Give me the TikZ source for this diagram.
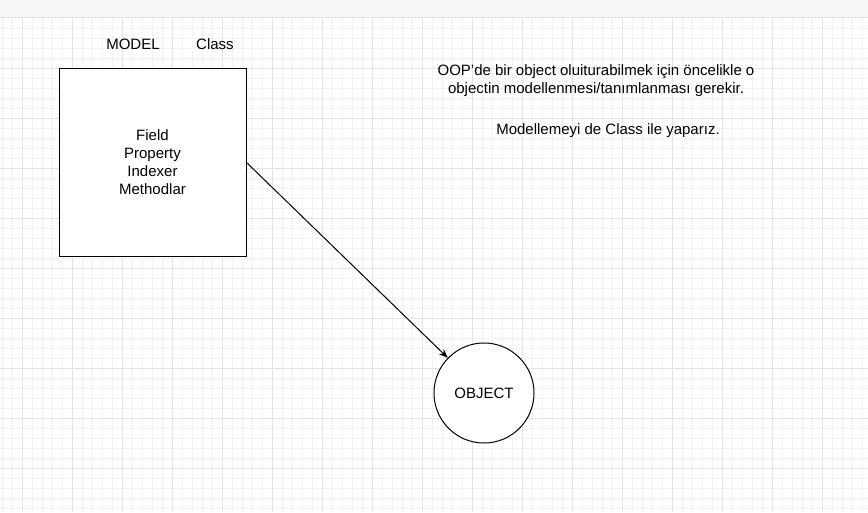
\documentclass[tikz,border=0pt]{standalone}
\usepackage{fontspec}
\usetikzlibrary{arrows.meta}
\setmainfont{Liberation Sans}
\begin{document}
\begin{tikzpicture}[x=1pt,y=-1pt,
  lbl/.style={font=\fontsize{15}{18}\selectfont, inner sep=0pt, align=center},
  arr/.style={draw, line width=1pt, -{Stealth[length=9pt,width=7pt]}}]
\useasboundingbox (0,0) rectangle (868,512);
\fill[white] (0,0) rectangle (868,512);
\fill[black!3] (0,0) rectangle (868,17);
\draw[black!12] (0,17.5) -- (868,17.5);
\foreach \x in {2,12,...,862} \draw[black!5, line width=0.6pt] (\x,18) -- (\x,512);
\foreach \y in {28,38,...,508} \draw[black!5, line width=0.6pt] (0,\y) -- (868,\y);
\foreach \x in {22,72,...,862} \draw[black!11, line width=0.8pt] (\x,18) -- (\x,512);
\foreach \y in {68,118,...,508} \draw[black!11, line width=0.8pt] (0,\y) -- (868,\y);
\node[draw, line width=1pt, fill=white, minimum width=187pt, minimum height=188pt, anchor=north west, lbl] (model) at (59,68) {};
\node[lbl] (fields) at (152.5,162) {Field\\Property\\Indexer\\Methodlar};
\node[lbl] (mtitle) at (133,44) {MODEL};
\node[lbl] (ctitle) at (215,44) {Class};
\node[draw, circle, line width=1pt, fill=white, minimum size=100pt, lbl] (obj) at (484,393) {OBJECT};
\node[lbl] (desc) at (596,81) {OOP'de bir object oluiturabilmek için öncelikle o\\objectin modellenmesi/tanımlanması gerekir.};
\node[lbl] (desc2) at (608,131) {Modellemeyi de Class ile yaparız.};
\draw[arr] (246,162) -- (obj);
\end{tikzpicture}
\end{document}
